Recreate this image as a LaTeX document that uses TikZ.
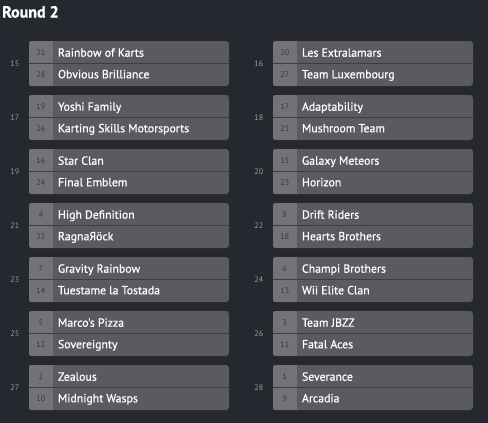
\documentclass[tikz,border=0pt]{standalone}
\usepackage{fontspec}
\setmainfont{PT Sans}
\newfontfamily\teamfont[FakeBold=0.8]{PT Sans}
\newfontfamily\titlefont[FakeBold=1.2]{PT Sans}
\definecolor{bg}{HTML}{26282F}
\definecolor{boxc}{HTML}{5A5A5F}
\definecolor{seedc}{HTML}{727277}
\definecolor{divc}{HTML}{3C3D43}
\definecolor{seedtxt}{HTML}{36373C}
\definecolor{numtxt}{HTML}{9A9BA0}
\tikzset{
  matchbox/.style={draw=none, fill=boxc, rounded corners=3pt, minimum width=200pt, minimum height=45pt, inner sep=0pt},
  seednum/.style={text=seedtxt, font=\fontsize{8}{8}\selectfont, inner sep=0pt},
  teamname/.style={text=white, font=\teamfont\fontsize{11.8}{13}\selectfont, inner sep=0pt, anchor=base west},
  matchnum/.style={text=numtxt, font=\fontsize{8}{8}\selectfont, inner sep=0pt},
}
\begin{document}
\begin{tikzpicture}[x=1pt,y=-1pt]
\useasboundingbox[fill=bg] (0,0) rectangle (488,423);
\node[anchor=base west, inner sep=0pt, text=white, font=\titlefont\bfseries\fontsize{16}{16}\selectfont] (title) at (2,17.5) {Round 2};
\foreach \mx/\my/\mn/\sa/\ta/\sb/\tb in {
 29/41/15/21/Rainbow of Karts/28/Obvious Brilliance,
 29/95/17/19/Yoshi Family/26/Karting Skills Motorsports,
 29/149/19/16/Star Clan/24/Final Emblem,
 29/203/21/4/High Definition/22/RagnaЯöck,
 29/257/23/7/Gravity Rainbow/14/Tuestame la Tostada,
 29/311/25/5/Marco's Pizza/12/Sovereignty,
 29/365/27/2/Zealous/10/Midnight Wasps,
 273/41/16/20/Les Extralamars/27/Team Luxembourg,
 273/95/18/17/Adaptability/25/Mushroom Team,
 273/149/20/15/Galaxy Meteors/23/Horizon,
 273/203/22/8/Drift Riders/18/Hearts Brothers,
 273/257/24/6/Champi Brothers/13/Wii Elite Clan,
 273/311/26/3/Team JBZZ/11/Fatal Aces,
 273/365/28/1/Severance/9/Arcadia}{
  \node[matchbox] (m\mn) at (\mx+100,\my+22.5) {};
  \begin{scope}
    \clip[rounded corners=3pt] (m\mn.north west) rectangle (m\mn.south east);
    \fill[seedc] (m\mn.north west) rectangle ([xshift=24pt]m\mn.south west);
  \end{scope}
  \draw[divc, line width=1pt] (m\mn.west) -- (m\mn.east);
  \node[seednum] (s\mn a) at ([xshift=12pt,yshift=11.25pt]m\mn.west) {\sa};
  \node[seednum] (s\mn b) at ([xshift=12pt,yshift=-11.25pt]m\mn.west) {\sb};
  \node[teamname] (t\mn a) at ([xshift=29pt,yshift=6.8pt]m\mn.west) {\ta};
  \node[teamname] (t\mn b) at ([xshift=29pt,yshift=-14.8pt]m\mn.west) {\tb};
  \node[matchnum] (n\mn) at ([xshift=-14pt]m\mn.west) {\mn};
}
\end{tikzpicture}
\end{document}
